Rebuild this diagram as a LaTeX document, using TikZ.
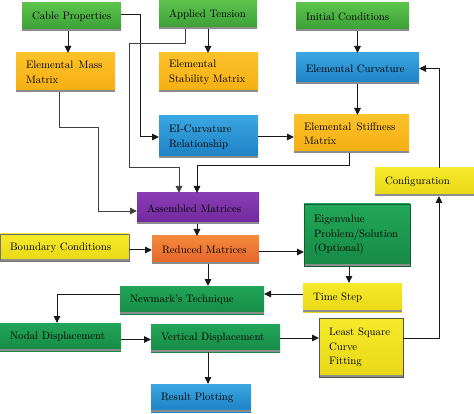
\documentclass[tikz,border=0pt]{standalone}
\usetikzlibrary{arrows.meta}
\definecolor{lgT}{HTML}{5CC24C}\definecolor{lgB}{HTML}{3A9E36}
\definecolor{dgT}{HTML}{22A659}\definecolor{dgB}{HTML}{168A45}
\definecolor{orT}{HTML}{FCC22A}\definecolor{orB}{HTML}{F5AE12}
\definecolor{blT}{HTML}{3AA6E0}\definecolor{blB}{HTML}{1D80C4}
\definecolor{puT}{HTML}{8A3CB4}\definecolor{puB}{HTML}{70289C}
\definecolor{rdT}{HTML}{F58A3C}\definecolor{rdB}{HTML}{E4642A}
\definecolor{yeT}{HTML}{F6EA2A}\definecolor{yeB}{HTML}{E9D816}
\tikzset{
  box/.style n args={4}{anchor=north west, inner sep=0pt, outer sep=0pt,
    minimum width=#3-#1, minimum height=#4-#2,
    text width=#3-#1-20pt, align=left,
    font=\fontsize{10.8}{14.5}\selectfont, text=black,
    path picture={\fill[black!45] ([yshift=2pt]path picture bounding box.south west) rectangle (path picture bounding box.south east);}},
  lg/.style={top color=lgT, bottom color=lgB},
  dg/.style={top color=dgT, bottom color=dgB},
  og/.style={top color=orT, bottom color=orB},
  bl/.style={top color=blT, bottom color=blB},
  pu/.style={top color=puT, bottom color=puB},
  rd/.style={top color=rdT, bottom color=rdB},
  ye/.style={top color=yeT, bottom color=yeB},
  arr/.style={draw=black!90, line width=1pt, -{Triangle[length=7pt,width=6.5pt]}},
}
\begin{document}
\begin{tikzpicture}[x=1pt,y=-1pt]
\useasboundingbox (0,0) rectangle (474,414);
% nodes
\node[box={22}{3}{121}{31}, lg] (CP) at (22,3) {Cable Properties};
\node[box={159}{1}{257}{29}, lg] (AT) at (159,1) {Applied Tension};
\node[box={296}{3}{409}{31}, lg] (IC) at (296,3) {Initial Conditions};
\node[box={16}{53}{115}{92}, og] (EMM) at (16,53) {Elemental\enspace Mass\\Matrix};
\node[box={159}{53}{258}{92}, og] (ESM) at (159,53) {Elemental\\Stability Matrix};
\node[box={296}{53}{419}{84}, bl] (EC) at (296,53) {Elemental Curvature};
\node[box={159}{116}{258}{158}, bl] (EI) at (159,116) {EI-Curvature\\Relationship};
\node[box={294}{115}{409}{153}, og] (ESt) at (294,115) {Elemental\enspace Stiffness\\Matrix};
\node[box={375}{168}{474}{196}, ye] (Conf) at (375,168) {Configuration};
\node[box={137}{193}{259}{224}, pu] (AM) at (137,193) {Assembled Matrices};
\node[box={0}{234}{129}{261}, ye, draw=black!55, line width=0.6pt] (BC) at (0,234) {Boundary Conditions};
\node[box={152}{236}{259}{264}, rd] (RM) at (152,236) {Reduced Matrices};
\node[box={304}{204}{410}{266}, dg, draw=dgB!70!black, line width=0.8pt] (EV) at (304,204) {Eigenvalue\\Problem/Solution\\(Optional)};
\node[box={120}{286}{264}{314}, dg] (NT) at (120,286) {Newmark's Technique};
\node[box={303}{283}{402}{312}, ye] (TS) at (303,283) {Time Step};
\node[box={0}{323}{121}{351}, dg] (ND) at (0,323) {Nodal Displacement};
\node[box={151}{324}{280}{352}, dg] (VD) at (151,324) {Vertical Displacement};
\node[box={319}{318}{403}{377}, ye, draw=black!60!yellow!60!black, line width=0.8pt] (LS) at (319,318) {Least Square\\Curve\\Fitting};
\node[box={151}{384}{251}{412}, bl] (RP) at (151,384) {Result Plotting};
% connectors
\draw[arr] ([xshift=-3.5pt]CP.south) -- ([xshift=-3.5pt]CP.south |- EMM.north);
\draw[arr] (AT.south) -- (AT.south |- ESM.north);
\draw[arr] (IC.south -| EC.north) -- (EC.north);
\draw[arr] (EC.south) -- (EC.south |- ESt.north);
\draw[arr] (EI.east) -- (EI.east -| ESt.west);
\draw[arr] ([yshift=2pt]CP.east) -- ++(19,0) |- (EI.west);
\draw[arr, draw=black!75, line width=0.9pt] ([xshift=-23pt]AT.south) -- ++(0,14) -- ++(-56,0) -- ++(0,124) -| ([xshift=-19pt]AM.north);
\draw[arr, draw=black!75, line width=0.9pt] ([xshift=-6.5pt]EMM.south) -- ++(0,35) -- ++(39,0) |- ([yshift=-2.5pt]AM.west);
\draw[arr] ([xshift=-2.5pt]ESt.south) -- ++(0,13) -| ([xshift=-1pt]AM.north);
\draw[arr] ([xshift=14.5pt]Conf.north) |- (EC.east);
\draw[arr] (LS.east |- VD.east) -| ([xshift=14.5pt]Conf.south);
\draw[arr] ([xshift=-1pt]AM.south) -- ([xshift=-1pt]AM.south |- RM.north);
\draw[arr] (BC.east |- RM.west) -- (RM.west);
\draw[arr] ([yshift=-2pt]RM.east) -- ([yshift=-2pt]RM.east -| EV.west);
\draw[arr] ([xshift=-8pt]EV.south) -- ([xshift=-8pt]EV.south |- TS.north);
\draw[arr] ([yshift=3.5pt]TS.west) -- ([yshift=3.5pt]TS.west -| NT.east);
\draw[arr] ([xshift=2.5pt]RM.south) -- ([xshift=2.5pt]RM.south |- NT.north);
\draw[arr] ([yshift=6pt]NT.west) -| ([xshift=-3.5pt]ND.north);
\draw[arr] ([yshift=-2.5pt]ND.east) -- ([yshift=-2.5pt]ND.east -| VD.west);
\draw[arr] (VD.east) -- (VD.east -| LS.west);
\draw[arr] ([xshift=-7.5pt]VD.south) -- ([xshift=-7.5pt]VD.south |- RP.north);
\end{tikzpicture}
\end{document}
